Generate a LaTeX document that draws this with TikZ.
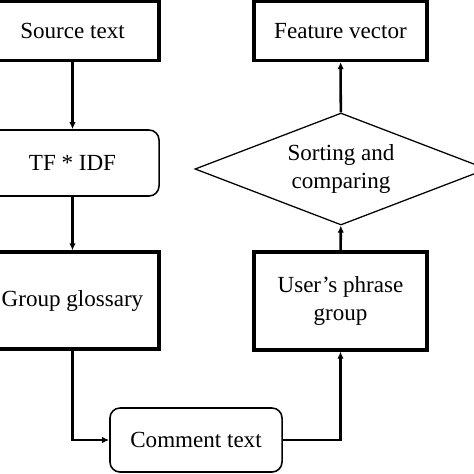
\documentclass[tikz,border=0pt]{standalone}
\usepackage{fontspec}
\setmainfont{Liberation Serif}
\usetikzlibrary{shapes.geometric,arrows.meta}

\tikzset{
  stepbox/.style={draw, line width=2.2pt, inner sep=0pt, minimum width=4.325cm, align=center},
  roundbox/.style={draw, line width=1.1pt, rounded corners=0.25cm, inner sep=0pt, minimum width=4.3cm, align=center},
  decision/.style={draw, diamond, line width=0.9pt, inner sep=0pt, aspect=2.6, minimum width=7.3cm, minimum height=2.8cm, align=center},
  flow/.style={->, line width=1.8pt}
}

\begin{document}
\begin{tikzpicture}[x=0.025cm, y=-0.025cm, >={Latex[length=5pt,width=4.5pt]},
  font=\fontsize{16.4}{20.5}\selectfont]
\useasboundingbox (0,0) rectangle (474,474);

\node[stepbox, minimum height=1.475cm] (source) at (72.5,31) {Source text};
\node[roundbox, minimum width=4.325cm, minimum height=1.65cm] (tfidf) at (72.5,163) {TF * IDF};
\node[stepbox, minimum height=2.425cm] (glossary) at (72.5,300.5) {Group glossary};
\node[roundbox, minimum height=1.6cm] (comment) at (196,440) {Comment text};
\node[stepbox, minimum height=2.45cm] (phrase) at (340.5,301) {User’s phrase\\group};
\node[decision] (sorting) at (341,169) {Sorting and\\comparing};
\node[stepbox, minimum height=1.475cm] (feature) at (340.5,31) {Feature vector};

\draw[flow] (source) -- (tfidf);
\draw[flow] (tfidf) -- (glossary);
\draw[flow] (glossary.south) |- (comment.west);
\draw[flow] (comment.east) -| (phrase.south);
\draw[flow] (phrase) -- (sorting);
\draw[flow] (sorting) -- (feature);
\end{tikzpicture}
\end{document}
